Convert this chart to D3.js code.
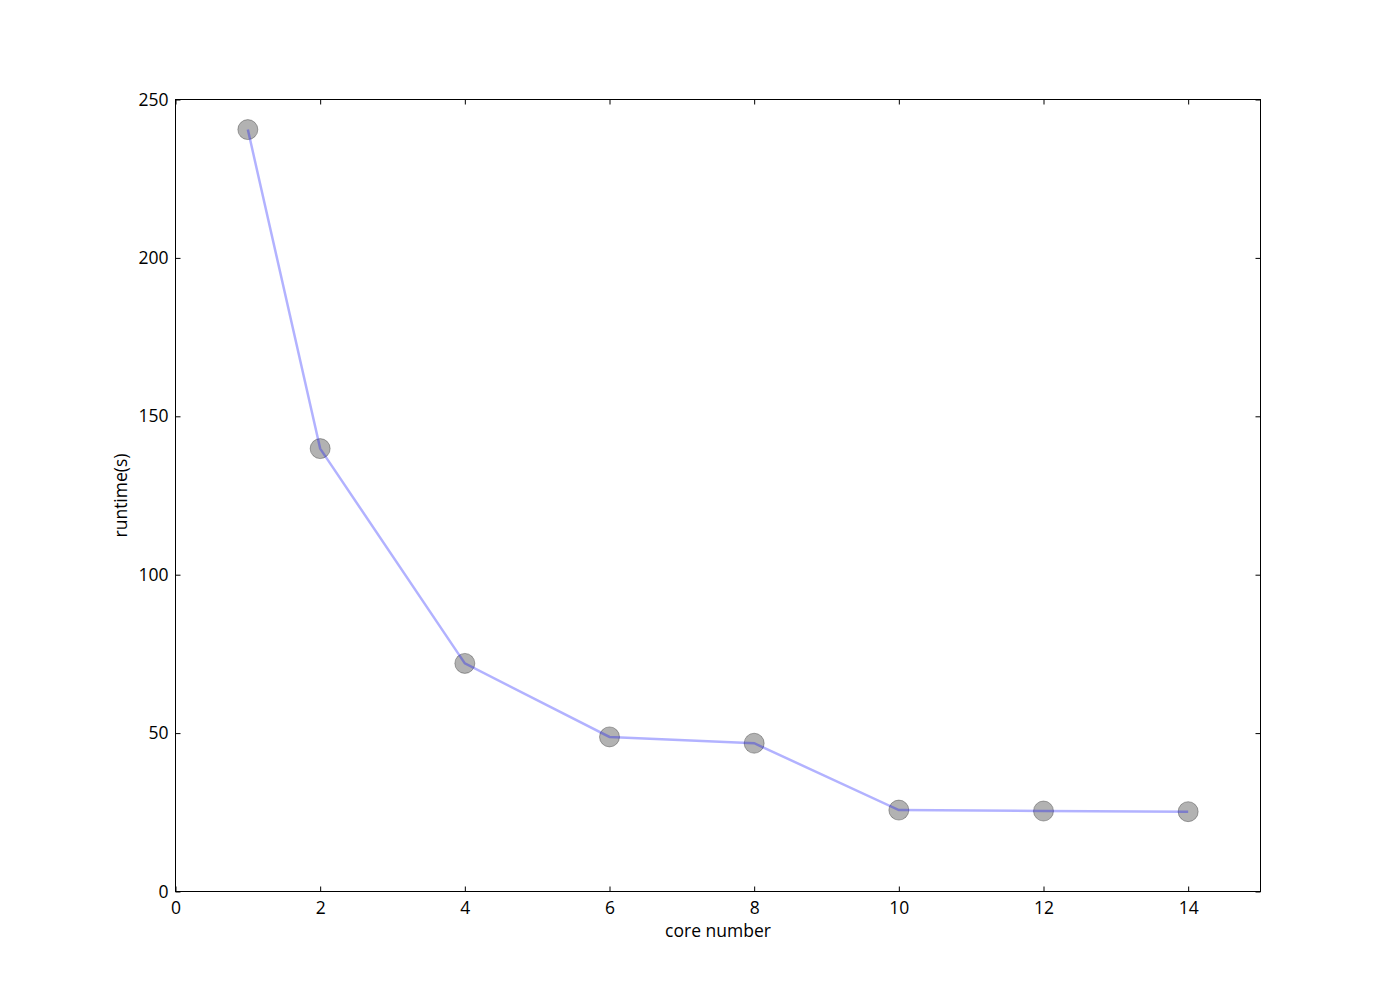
<!DOCTYPE html>
<html><head><meta charset="utf-8">
<script src="https://cdn.jsdelivr.net/npm/d3@7"></script>
<style>body{margin:0;background:#fff;} svg{display:block;} text{font-family:"Open Sans",sans-serif;}</style>
</head><body>
<svg id="chart" width="1400" height="991"></svg>
<script>
const cores = [1, 2, 4, 6, 8, 10, 12, 14];
const runtimes = [240.5, 139.8, 72.0, 48.8, 46.8, 25.7, 25.4, 25.2];
const xTicks = [0, 2, 4, 6, 8, 10, 12, 14];
const yTicks = [0, 50, 100, 150, 200, 250];
const xLabel = "core number";
const yLabel = "runtime(s)";

const svg = d3.select("#chart");
const L = 175.5, R = 1260.5, T = 99.5, B = 891.5;
const x = d3.scaleLinear().domain([0, 15]).range([L, R]);
const y = d3.scaleLinear().domain([0, 250]).range([B, T]);

const data = cores.map((c, i) => ({x: c, y: runtimes[i]}));

// markers
svg.append("g").selectAll("circle").data(data).join("circle")
  .attr("cx", d => x(d.x)).attr("cy", d => y(d.y)).attr("r", 10)
  .attr("fill", "rgba(0,0,0,0.3)").attr("stroke", "rgba(0,0,0,0.3)").attr("stroke-width", 1);

// line
svg.append("path").datum(data)
  .attr("d", d3.line().x(d => x(d.x)).y(d => y(d.y)))
  .attr("fill", "none").attr("stroke", "rgba(0,0,255,0.3)").attr("stroke-width", 2.5);

// axes (ticks inward)
const fs = 17.5;
const gx = svg.append("g").attr("transform", `translate(0,${B})`)
  .call(d3.axisBottom(x).tickValues(xTicks).tickSize(-5).tickPadding(10));
const gxt = svg.append("g").attr("transform", `translate(0,${T})`)
  .call(d3.axisTop(x).tickValues(xTicks).tickSize(-5).tickFormat(""));
const gy = svg.append("g").attr("transform", `translate(${L},0)`)
  .call(d3.axisLeft(y).tickValues(yTicks).tickSize(-5).tickPadding(7));
const gyr = svg.append("g").attr("transform", `translate(${R},0)`)
  .call(d3.axisRight(y).tickValues(yTicks).tickSize(-5).tickFormat(""));
[gx, gxt, gy, gyr].forEach(g => {
  g.select(".domain").remove();
  g.selectAll(".tick line").attr("stroke", "#000").attr("stroke-width", 1);
  g.selectAll("text").attr("font-size", fs).attr("fill", "#000").style("font-family", '"Open Sans", sans-serif');
});

// frame
svg.append("rect").attr("x", L).attr("y", T).attr("width", R - L).attr("height", B - T)
  .attr("fill", "none").attr("stroke", "#000").attr("stroke-width", 1);

svg.append("text").attr("x", (L + R) / 2).attr("y", 937).attr("text-anchor", "middle")
  .attr("font-size", fs).text(xLabel);
svg.append("text").attr("transform", `translate(127,${(T + B) / 2}) rotate(-90)`)
  .attr("text-anchor", "middle").attr("font-size", fs).text(yLabel);
</script>
</body></html>
